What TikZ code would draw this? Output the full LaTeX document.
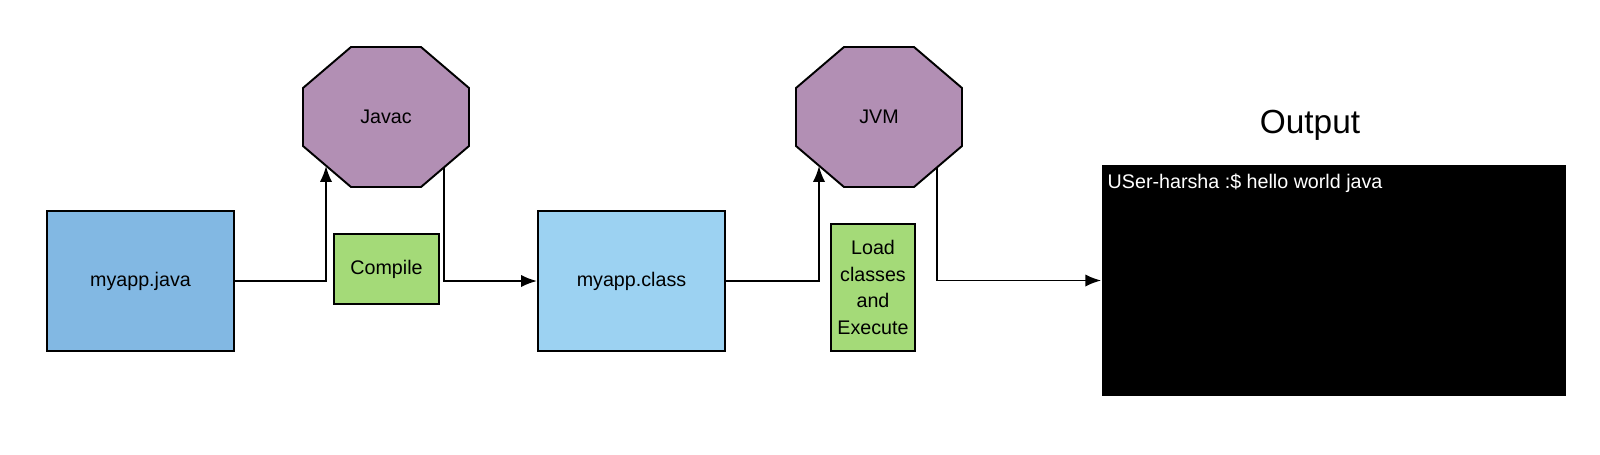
\documentclass[tikz,border=0pt]{standalone}
\usepackage{fontspec}
\setmainfont{Liberation Sans}
\usetikzlibrary{calc,arrows.meta}
\definecolor{bjava}{HTML}{82B8E3}
\definecolor{bclass}{HTML}{9CD2F2}
\definecolor{oct}{HTML}{B28FB4}
\definecolor{grn}{HTML}{A4DA78}
\begin{document}
\begin{tikzpicture}[x=0.01cm,y=-0.01cm,
  box/.style={draw=black,line width=0.55pt,inner sep=0pt,font=\fontsize{5.6}{7}\selectfont,align=center},
  octlab/.style={minimum width=1.66cm,minimum height=1.40cm,inner sep=0pt,font=\fontsize{5.6}{7}\selectfont},
  octpath/.style={draw=black,fill=oct,line width=0.55pt,line join=miter},
  conn/.style={line width=0.55pt,-{Latex[length=4.5pt,width=3.5pt]}},
  plain/.style={line width=0.55pt}]
\useasboundingbox (0,0) rectangle (1600,454);
\node[box,fill=bjava,minimum width=1.87cm,minimum height=1.40cm] (java) at (140.5,281) {myapp.java};
\foreach \c in {(386,117),(879,117)}{
  \draw[octpath] \c ++(-35,-70) -- ++(70,0) -- ++(48,41) -- ++(0,58) -- ++(-48,41) -- ++(-70,0) -- ++(-48,-41) -- ++(0,-58) -- cycle;
}
\node[octlab] (javac) at (386,117) {Javac};
\node[box,fill=grn,minimum width=1.05cm,minimum height=0.70cm] (comp) at (386.5,269) {Compile};
\node[box,fill=bclass,minimum width=1.87cm,minimum height=1.40cm] (cls) at (631.5,281) {myapp.class};
\node[octlab] (jvm) at (879,117) {JVM};
\node[box,fill=grn,minimum width=0.84cm,minimum height=1.27cm,font=\fontsize{5.6}{7.5}\selectfont] (load) at (873,287.5) {Load\\classes\\and\\Execute};
\node[font=\fontsize{9.5}{11}\selectfont] (outlbl) at (1310,125) {Output};
\node[fill=black,minimum width=4.64cm,minimum height=2.31cm,inner sep=0pt] (term) at (1334,280.5) {};
\node[anchor=north west,text=white,font=\fontsize{5.6}{7}\selectfont,inner sep=0pt] (cmd) at (1107,173) {USer-harsha :\$ hello world java};
\coordinate (a1) at ($(javac.center)+(-60,49)$);
\coordinate (a2) at ($(javac.center)+(58,50)$);
\coordinate (b1) at ($(jvm.center)+(-60,49)$);
\coordinate (b2) at ($(jvm.center)+(58,50)$);
\draw[conn] (java.east) -| (a1);
\draw[conn] (a2) |- (cls.west);
\draw[conn] (cls.east) -| (b1);
\draw[conn] (b2) |- (term.west);
\end{tikzpicture}
\end{document}
